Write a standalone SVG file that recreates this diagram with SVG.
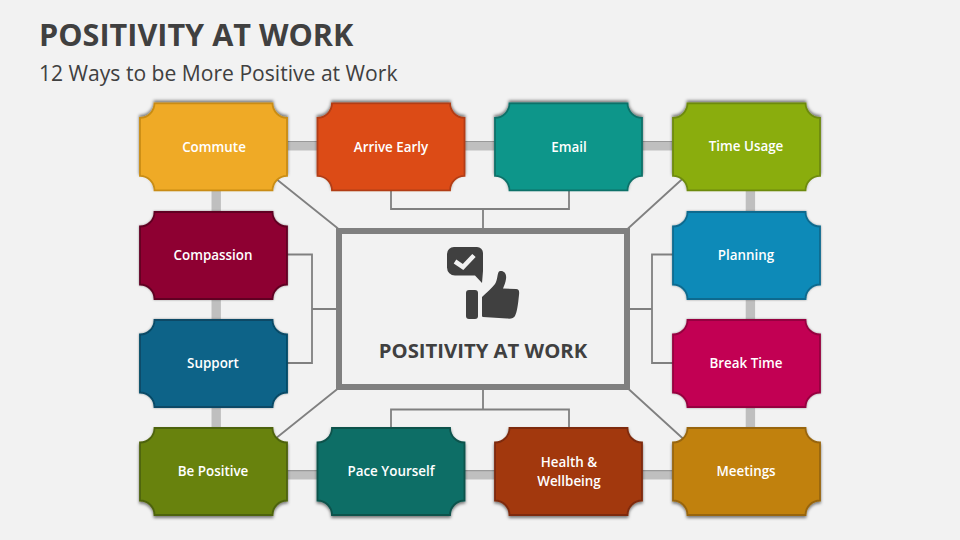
<svg xmlns="http://www.w3.org/2000/svg" width="960" height="540" viewBox="0 0 960 540">
<style>
.t{font-family:"Open Sans","Liberation Sans",sans-serif;font-weight:600;font-size:13.4px;fill:#fff;text-anchor:middle}
.thin{fill:none;stroke:#808080;stroke-width:1.8}
.bar{fill:none;stroke:#bfbfbf;stroke-width:9.4}
.edge{fill:none;stroke:#999;stroke-width:1.2}
.n{stroke-width:1.8}
</style>
<defs>
<path id="s" d="M14.5 0H132.5A14.5 14.5 0 0 0 147 14.5V72.5A14.5 14.5 0 0 0 132.5 87H14.5A14.5 14.5 0 0 0 0 72.5V14.5A14.5 14.5 0 0 0 14.5 0Z"/>
<filter id="up" x="-10%" y="-15%" width="120%" height="130%"><feDropShadow dx="0" dy="-2" stdDeviation="1.5" flood-color="#000" flood-opacity=".5"/></filter>
<filter id="mid" x="-10%" y="-15%" width="120%" height="130%"><feDropShadow dx="0" dy="0" stdDeviation="1.2" flood-color="#000" flood-opacity=".35"/></filter>
<filter id="dn" x="-10%" y="-15%" width="120%" height="130%"><feDropShadow dx="0" dy="2" stdDeviation="1.5" flood-color="#000" flood-opacity=".5"/></filter>
</defs>
<rect width="960" height="540" fill="#f2f2f2"/>
<text x="39" y="45.5" font-family="Open Sans,Liberation Sans,sans-serif" font-weight="700" font-size="30.6" fill="#404040">POSITIVITY AT WORK</text>
<text x="39" y="81" font-family="Open Sans,Liberation Sans,sans-serif" font-size="21.1" fill="#404040">12 Ways to be More Positive at Work</text>
<g id="connectors">
<path class="bar" d="M287 145.7H318M465 145.7H495M642 145.7H673M287 474.8H318M465 474.8H495M642 474.8H673M216.2 190V212M216.2 299V320M216.2 407V428M750.4 190V212M750.4 299V320M750.4 407V428"/>
<path class="edge" d="M287 141.5H318M465 141.5H495M642 141.5H673M287 470.6H318M465 470.6H495M642 470.6H673"/>
<path class="thin" d="M270 174L338 228.5M690 172L628 228.5M270 443L338 388.5M690 445L628 388.5M391 190V209H569V190M483 209V229M391 428V409.5H569V428M483 388V409.5M287 254.5H312V363H287M312 309H338M673 254.5H652V363H673M628 309H652"/>
</g>
<g id="center">
<rect x="339" y="231" width="288" height="156" fill="#f2f2f2" stroke="#808080" stroke-width="6"/>
<path fill="#404040" d="M454 247H477A6 6 0 0 1 483 253V271L482 283L475 275.500H455A8 8 0 0 1 447 267.500V254A7 7 0 0 1 454 247Z"/>
<path fill="none" stroke="#f2f2f2" stroke-width="4.600" d="M455 261.500L463 267L474 255.500"/>
<rect x="466" y="290" width="12" height="29" rx="3" fill="#404040"/>
<path fill="#404040" d="M482 297C487 292 492 288 495 284C498 279 497 274 499 271.500C503 270 507 273 506 279C505.500 283 504 286 503 288.500L516 289C519 289 519.500 291 519 295C518 305 517 312 515 316C514 318 511 319 507 318.500L483 317C482 317 482 316 482 315Z"/>
<text x="483" y="358" text-anchor="middle" font-family="Open Sans,Liberation Sans,sans-serif" font-weight="700" font-size="20.3" fill="#404040">POSITIVITY AT WORK</text>
</g>
<g id="commute"><use href="#s" x="140" y="103.3" class="n" fill="#efaa26" stroke="#c98c12" filter="url(#up)"/><text class="t" x="214" y="151.5">Commute</text></g>
<g id="arrive-early"><use href="#s" x="317.5" y="103.3" class="n" fill="#dc4c18" stroke="#b23c12" filter="url(#up)"/><text class="t" x="391" y="151.5">Arrive Early</text></g>
<g id="email"><use href="#s" x="495" y="103.3" class="n" fill="#11968a" stroke="#0c7169" filter="url(#up)"/><text class="t" x="569" y="151.5">Email</text></g>
<g id="time-usage"><use href="#s" x="673" y="103.3" class="n" fill="#8aad10" stroke="#6d8a0a" filter="url(#up)"/><text class="t" x="746" y="150.5">Time Usage</text></g>
<g id="compassion"><use href="#s" x="140" y="212" class="n" fill="#8e0032" stroke="#610022" filter="url(#mid)"/><text class="t" x="213" y="260">Compassion</text></g>
<g id="planning"><use href="#s" x="673" y="212" class="n" fill="#0e8ab8" stroke="#0b6b8f" filter="url(#mid)"/><text class="t" x="746" y="260">Planning</text></g>
<g id="support"><use href="#s" x="140" y="320" class="n" fill="#0a6388" stroke="#074a66" filter="url(#mid)"/><text class="t" x="213" y="368">Support</text></g>
<g id="break-time"><use href="#s" x="673" y="320" class="n" fill="#c20052" stroke="#96003f" filter="url(#mid)"/><text class="t" x="746" y="368">Break Time</text></g>
<g id="be-positive"><use href="#s" x="140" y="428" class="n" fill="#67820e" stroke="#4e630a" filter="url(#dn)"/><text class="t" x="213" y="476">Be Positive</text></g>
<g id="pace-yourself"><use href="#s" x="317.5" y="428" class="n" fill="#0e6e66" stroke="#0a524c" filter="url(#dn)"/><text class="t" x="391" y="476">Pace Yourself</text></g>
<g id="health-wellbeing"><use href="#s" x="495" y="428" class="n" fill="#a23811" stroke="#7e2b0c" filter="url(#dn)"/><text class="t" x="569" y="467">Health &amp;</text><text class="t" x="569" y="486">Wellbeing</text></g>
<g id="meetings"><use href="#s" x="673" y="428" class="n" fill="#c1810e" stroke="#98650a" filter="url(#dn)"/><text class="t" x="746" y="476">Meetings</text></g>
</svg>
